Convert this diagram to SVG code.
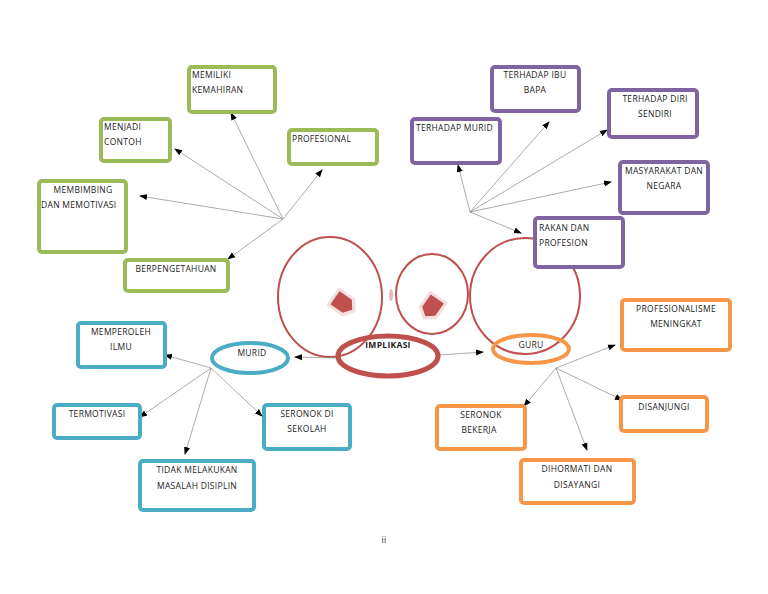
<svg xmlns="http://www.w3.org/2000/svg" width="768" height="594" viewBox="0 0 768 594">
<defs>
<marker id="ah" markerWidth="8" markerHeight="8" refX="7" refY="4" orient="auto" markerUnits="userSpaceOnUse"><path d="M0,1 L8,4 L0,7 z" fill="#000"/></marker>
<style>
.g{fill:#fff;stroke:#9bbb59;stroke-width:4}
.p{fill:#fff;stroke:#8064a2;stroke-width:4}
.b{fill:#fff;stroke:#4bacc6;stroke-width:4}
.o{fill:#fff;stroke:#f79646;stroke-width:4}
.c{fill:none;stroke:#c0504d;stroke-width:2}
text{font-family:"Open Sans","DejaVu Sans",sans-serif;font-size:8.5px;fill:#222;letter-spacing:0.3px}
.m{text-anchor:middle}
.l{stroke:#888;stroke-width:0.7;fill:none;marker-end:url(#ah)}
</style>
</defs>
<rect width="768" height="594" fill="#fff"/>
<g id="circles">
<ellipse class="c" cx="330" cy="297" rx="52" ry="60"/>
<ellipse class="c" cx="432" cy="294" rx="36" ry="40"/>
<ellipse class="c" cx="525" cy="296" rx="55" ry="58"/>
<g transform="translate(344 304) rotate(35)"><path d="M-14,-11 H6 L14,0 L6,11 H-14 Z" fill="#f2e0e0"/><path d="M-11,-8 H4 L10,0 L4,8 H-11 Z" fill="#c0504d"/></g>
<g transform="translate(431 308) rotate(125)"><path d="M-14,-11 H6 L14,0 L6,11 H-14 Z" fill="#f2e0e0"/><path d="M-11,-8 H4 L10,0 L4,8 H-11 Z" fill="#c0504d"/></g>
<ellipse cx="391" cy="295" rx="2" ry="6" fill="#e6b8b7"/>
</g>
<g id="connectors">
<line class="l" x1="283" y1="219" x2="231" y2="113"/>
<line class="l" x1="283" y1="219" x2="175" y2="149"/>
<line class="l" x1="283" y1="219" x2="140" y2="196"/>
<line class="l" x1="283" y1="219" x2="322" y2="170"/>
<line class="l" x1="283" y1="219" x2="228" y2="259"/>
<line class="l" x1="470" y1="212" x2="549" y2="122"/>
<line class="l" x1="470" y1="212" x2="458" y2="165"/>
<line class="l" x1="470" y1="212" x2="607" y2="130"/>
<line class="l" x1="470" y1="212" x2="611" y2="182"/>
<line class="l" x1="470" y1="212" x2="521" y2="233"/>
<line class="l" x1="338" y1="358" x2="295" y2="357"/>
<line class="l" x1="440" y1="355" x2="483" y2="352"/>
<line class="l" x1="211" y1="368" x2="165" y2="355"/>
<line class="l" x1="211" y1="368" x2="140" y2="417"/>
<line class="l" x1="211" y1="368" x2="185" y2="454"/>
<line class="l" x1="211" y1="368" x2="262" y2="416"/>
<line class="l" x1="556" y1="368" x2="615" y2="345"/>
<line class="l" x1="556" y1="368" x2="622" y2="400"/>
<line class="l" x1="556" y1="368" x2="524" y2="406"/>
<line class="l" x1="556" y1="368" x2="587" y2="450"/>
</g>
<g id="implikasi"><ellipse cx="388" cy="356" rx="50" ry="20" fill="none" stroke="#c0504d" stroke-width="5"/><text class="m" x="388" y="348" font-weight="bold">IMPLIKASI</text></g>
<g id="guru"><ellipse cx="531" cy="349" rx="38" ry="14" fill="none" stroke="#f79646" stroke-width="4"/><text class="m" x="531" y="348">GURU</text></g>
<g id="murid"><ellipse cx="250" cy="358" rx="38" ry="15" fill="none" stroke="#4bacc6" stroke-width="4"/><text class="m" x="252" y="356">MURID</text></g>
<g id="kemahiran"><rect class="g" x="189" y="67" width="86" height="45" rx="3"/><text x="192" y="78">MEMILIKI</text><text x="192" y="93">KEMAHIRAN</text></g>
<g id="contoh"><rect class="g" x="101" y="119" width="69" height="42" rx="3"/><text x="104" y="130">MENJADI</text><text x="104" y="145">CONTOH</text></g>
<g id="profesional"><rect class="g" x="289" y="130" width="88" height="34" rx="3"/><text x="292" y="142">PROFESIONAL</text></g>
<g id="membimbing"><rect class="g" x="39" y="181" width="87" height="71" rx="3"/><text class="m" x="83" y="193">MEMBIMBING</text><text x="41" y="208">DAN MEMOTIVASI</text></g>
<g id="berpengetahuan"><rect class="g" x="125" y="260" width="103" height="31" rx="3"/><text class="m" x="176" y="272">BERPENGETAHUAN</text></g>
<g id="ibubapa"><rect class="p" x="492" y="67" width="87" height="44" rx="3"/><text class="m" x="535" y="78">TERHADAP IBU</text><text class="m" x="535" y="93">BAPA</text></g>
<g id="terhadapmurid"><rect class="p" x="412" y="119" width="88" height="44" rx="3"/><text x="416" y="131">TERHADAP MURID</text></g>
<g id="diri"><rect class="p" x="609" y="90" width="88" height="47" rx="3"/><text class="m" x="655" y="102">TERHADAP DIRI</text><text class="m" x="655" y="117">SENDIRI</text></g>
<g id="masyarakat"><rect class="p" x="620" y="162" width="88" height="51" rx="3"/><text class="m" x="664" y="174">MASYARAKAT DAN</text><text class="m" x="664" y="189">NEGARA</text></g>
<g id="rakan"><rect class="p" x="535" y="218" width="88" height="49" rx="3"/><text x="539" y="231">RAKAN DAN</text><text x="539" y="246">PROFESION</text></g>
<g id="ilmu"><rect class="b" x="78" y="323" width="87" height="44" rx="3"/><text class="m" x="121" y="335">MEMPEROLEH</text><text class="m" x="121" y="350">ILMU</text></g>
<g id="termotivasi"><rect class="b" x="54" y="405" width="86" height="33" rx="3"/><text class="m" x="97" y="417">TERMOTIVASI</text></g>
<g id="seronoksekolah"><rect class="b" x="264" y="405" width="86" height="44" rx="3"/><text class="m" x="307" y="417">SERONOK DI</text><text class="m" x="307" y="432">SEKOLAH</text></g>
<g id="disiplin"><rect class="b" x="140" y="461" width="114" height="49" rx="3"/><text class="m" x="197" y="473">TIDAK MELAKUKAN</text><text class="m" x="197" y="489">MASALAH DISIPLIN</text></g>
<g id="profmeningkat"><rect class="o" x="622" y="300" width="108" height="50" rx="3"/><text class="m" x="676" y="312">PROFESIONALISME</text><text class="m" x="676" y="327">MENINGKAT</text></g>
<g id="disanjungi"><rect class="o" x="621" y="397" width="86" height="34" rx="3"/><text class="m" x="664" y="410">DISANJUNGI</text></g>
<g id="seronokbekerja"><rect class="o" x="437" y="406" width="88" height="43" rx="3"/><text class="m" x="481" y="418">SERONOK</text><text class="m" x="479" y="433">BEKERJA</text></g>
<g id="dihormati"><rect class="o" x="521" y="460" width="113" height="43" rx="3"/><text class="m" x="577" y="472">DIHORMATI DAN</text><text class="m" x="577" y="488">DISAYANGI</text></g>
<text class="m" x="384" y="543">ii</text>
</svg>
